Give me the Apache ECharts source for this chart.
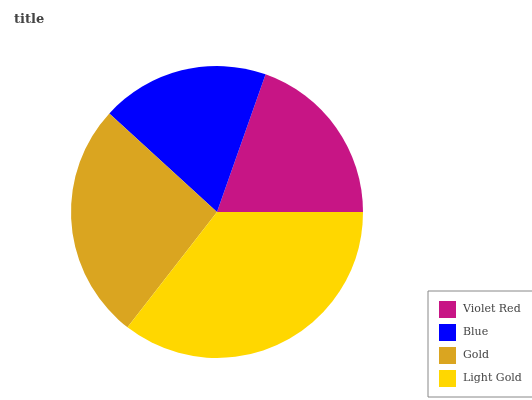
<!DOCTYPE html>
<html><head><meta charset="utf-8">
<script src="https://cdn.jsdelivr.net/npm/echarts@6/dist/echarts.min.js"></script>
<style>html,body{margin:0;padding:0;background:#fff}#c{width:532px;height:400px}</style>
</head><body><div id="c"></div>
<script>
const categories = ['Violet Red', 'Blue', 'Gold', 'Light Gold'];
const values = [19.6, 18.6, 26.3, 35.5];
const colors = ['#C71585', '#0000FF', '#DAA520', '#FFD700'];

const chart = echarts.init(document.getElementById('c'), null, {renderer: 'canvas'});
chart.setOption({
  animation: false,
  title: {
    text: 'title', left: 9, top: 8,
    textStyle: {fontFamily: 'DejaVu Serif', fontWeight: 'bold', fontSize: 13, color: '#444'}
  },
  legend: {
    orient: 'vertical', left: 428, top: 291,
    data: categories,
    icon: 'rect', itemWidth: 17, itemHeight: 17, itemGap: 6,
    borderColor: '#888', borderWidth: 1, borderRadius: 0,
    padding: [10, 40, 10, 11],
    textStyle: {fontFamily: 'DejaVu Serif', fontSize: 11, color: '#444', padding: [0, 0, 0, 2]}
  },
  series: [{
    type: 'pie',
    center: [217, 212], radius: 146,
    startAngle: 0, clockwise: false,
    label: {show: false}, labelLine: {show: false},
    emphasis: {disabled: true},
    data: categories.map((n, i) => ({name: n, value: values[i], itemStyle: {color: colors[i]}}))
  }]
});
</script></body></html>
